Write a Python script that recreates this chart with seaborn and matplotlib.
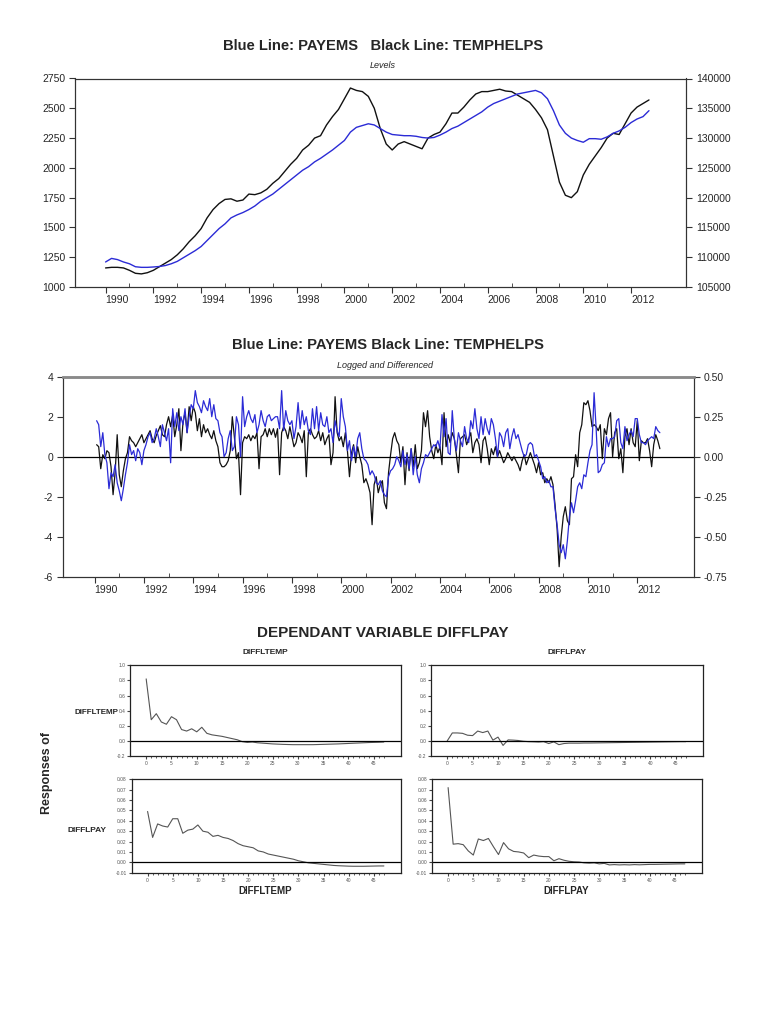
import numpy as np
import matplotlib
matplotlib.use('Agg')
import matplotlib.pyplot as plt
import seaborn as sns
from matplotlib import font_manager

# ── Levels, quarterly 1990Q1 .. 2012Q4 ───────────────────────────────────────
temphelps_lvl = [
    1160, 1165, 1165, 1160,  1140, 1115, 1110, 1120,  1140, 1170, 1200, 1230,
    1270, 1320, 1380, 1430,  1490, 1580, 1650, 1700,  1735, 1740, 1720, 1730,
    1780, 1775, 1790, 1820,  1870, 1910, 1970, 2030,  2080, 2150, 2190, 2250,
    2270, 2360, 2430, 2490,  2580, 2670, 2650, 2640,  2600, 2500, 2330, 2200,
    2150, 2200, 2220, 2200,  2180, 2160, 2250, 2280,  2300, 2370, 2460, 2460,
    2510, 2570, 2620, 2640,  2640, 2650, 2660, 2645,  2640, 2610, 2580, 2550,
    2490, 2420, 2320, 2100,  1880, 1770, 1750, 1800,  1940, 2030, 2100, 2170,
    2250, 2290, 2280, 2370,  2460, 2510, 2540, 2570,
]
payems_lvl = [
    109200, 109800, 109600, 109200,  108900, 108400, 108300, 108300,
    108360, 108440, 108600, 108900,  109300, 109900, 110500, 111100,
    111800, 112800, 113800, 114800,  115600, 116600, 117100, 117500,
    118000, 118600, 119400, 120000,  120600, 121400, 122200, 123000,
    123800, 124600, 125200, 126000,  126600, 127300, 128000, 128800,
    129600, 131000, 131800, 132100,  132400, 132200, 131600, 131000,
    130600, 130500, 130400, 130400,  130300, 130100, 130000, 130100,
    130500, 131000, 131600, 132000,  132600, 133200, 133800, 134400,
    135200, 135800, 136200, 136600,  137000, 137400, 137600, 137800,
    138000, 137600, 136600, 134600,  132200, 130800, 130000, 129600,
    129300, 129900, 129900, 129800,  130200, 130800, 131200, 131800,
    132600, 133200, 133600, 134600,
]

# ── Logged and differenced (x100), monthly Feb 1990 .. Dec 2012 ──────────────
temphelps_dl = [
    0.6, 0.5, -0.6, 0.1, -0.1, 0.3, 0.2, -0.5, -1.9, -0.8, 1.1,            # 1990
    -0.9, -1.5, -0.7, -0.1, 0.2, 1.0, 0.8, 0.7, 0.5, 0.7, 0.9, 1.1,         # 1991
    0.7, 0.9, 1.1, 1.3, 0.9, 0.7, 1.05, 1.3, 1.55, 1.1, 1.0, 1.6,           # 1992
    2.0, 1.5, 2.1, 1.0, 1.6, 2.4, 0.3, 1.7, 2.2, 1.2, 2.5, 1.8,             # 1993
    2.5, 2.2, 1.3, 1.9, 1.0, 1.6, 1.2, 1.4, 1.1, 0.9, 1.3, 0.8,             # 1994
    0.5, -0.3, -0.5, -0.5, -0.4, -0.2, 0.3, 2.0, 1.0, -0.1, 0.2, -1.9,      # 1995
    0.7, 1.0, 0.9, 1.1, 0.8, 1.05, 0.9, 1.2, -0.6, 1.0, 1.1, 1.4,           # 1996
    1.0, 1.4, 1.1, 1.4, 0.97, 1.4, -0.9, 1.2, 1.5, 1.3, 0.9, 1.5,           # 1997
    1.0, 0.5, 0.7, 1.2, 1.0, 0.7, 1.3, -1.0, 1.2, 1.4, 1.1, 0.9,            # 1998
    1.0, 1.3, 0.8, 1.2, 0.6, 0.9, 1.1, -0.4, 0.2, 3.0, 1.2, 0.8,            # 1999
    1.0, 0.5, 1.2, 0.3, -1.0, 0.2, 0.6, -0.3, 0.5, 0.0, -0.4, -1.3,         # 2000
    -1.1, -1.4, -1.8, -3.4, -1.4, -1.0, -1.8, -1.4, -1.2, -2.3, -2.6, -0.8, # 2001
    0.1, 0.9, 1.2, 0.8, 0.6, -0.3, 0.5, -1.4, 0.2, -0.7, 0.4, -0.5,         # 2002
    0.6, -0.6, -0.3, 0.3, 2.2, 1.5, 2.3, 1.0, 0.3, -0.1, 0.6, 0.2,          # 2003
    0.5, -0.4, 2.2, 0.5, 1.1, 0.7, 1.2, 0.9, 0.1, -0.8, 0.9, 1.0,           # 2004
    1.1, 0.6, 0.9, 1.2, 0.2, 0.7, 0.9, 0.6, -0.3, 0.8, 1.0, 0.4,            # 2005
    -0.4, 0.4, 0.1, 0.5, 0.0, 0.3, 0.0, -0.3, -0.1, 0.2, 0.0, -0.2,         # 2006
    0.0, -0.2, -0.4, -0.7, -0.2, 0.1, -0.4, -0.1, 0.2, -0.1, -0.4, -0.8,    # 2007
    -0.3, -0.9, -0.8, -1.3, -1.1, -1.3, -1.0, -1.4, -2.4, -3.6, -5.5, -4.0, # 2008
    -3.0, -2.5, -3.2, -3.4, -1.1, -1.0, 0.1, -0.5, 1.2, 1.6, 2.7, 2.6,      # 2009
    2.8, 2.3, 1.5, 1.6, 1.5, 1.3, 1.6, -0.1, 1.4, 1.1, 1.9, 2.2,            # 2010
    0.0, 1.2, 1.4, -0.1, 0.4, -0.8, 1.0, 1.4, 0.6, 1.4, 0.7, 0.5,           # 2011
    1.8, -0.2, 0.8, 0.7, 0.7, 0.9, 0.3, -0.5, 0.6, 1.1, 0.8, 0.4,           # 2012
]
payems_dl = [
    0.225, 0.200, 0.063, 0.150, 0.013, -0.038, -0.200, -0.100, -0.125, -0.050, -0.163,   # 1990
    -0.213, -0.275, -0.200, -0.113, -0.038, 0.075, 0.013, 0.038, -0.025, 0.050, 0.025, -0.050,  # 1991
    0.038, 0.075, 0.125, 0.150, 0.088, 0.113, 0.175, 0.125, 0.063, 0.200, 0.150, 0.100,  # 1992
    0.175, -0.038, 0.300, 0.188, 0.275, 0.163, 0.250, 0.200, 0.300, 0.150, 0.250, 0.325, # 1993
    0.300, 0.413, 0.338, 0.313, 0.275, 0.350, 0.313, 0.288, 0.363, 0.250, 0.325, 0.238,  # 1994
    0.225, 0.150, 0.125, 0.000, 0.025, 0.113, 0.163, 0.038, 0.063, 0.250, 0.200, 0.000,  # 1995
    0.375, 0.188, 0.250, 0.288, 0.238, 0.213, 0.263, 0.150, 0.200, 0.288, 0.225, 0.188,  # 1996
    0.250, 0.263, 0.225, 0.238, 0.250, 0.250, 0.175, 0.413, 0.163, 0.288, 0.225, 0.200,  # 1997
    0.225, 0.113, 0.188, 0.338, 0.175, 0.288, 0.200, 0.250, 0.163, 0.138, 0.300, 0.175,  # 1998
    0.313, 0.163, 0.275, 0.200, 0.188, 0.250, 0.150, 0.175, 0.088, 0.225, 0.163, 0.125,  # 1999
    0.363, 0.250, 0.188, 0.038, 0.100, -0.025, 0.063, 0.000, 0.113, 0.150, 0.050, -0.013,  # 2000
    -0.025, -0.050, -0.113, -0.088, -0.113, -0.163, -0.175, -0.150, -0.213, -0.238, -0.250, -0.125,  # 2001
    -0.088, -0.075, -0.050, 0.000, -0.025, -0.063, 0.038, -0.050, 0.013, -0.075, 0.050, -0.113,  # 2002
    0.000, -0.113, -0.163, -0.075, -0.038, 0.013, 0.000, 0.025, 0.050, 0.075, 0.063, 0.100,  # 2003
    0.050, 0.263, 0.125, 0.238, 0.025, 0.013, 0.288, 0.113, 0.038, 0.150, 0.100, 0.063,  # 2004
    0.188, 0.113, 0.088, 0.225, 0.175, 0.300, 0.175, 0.113, 0.250, 0.138, 0.238, 0.175,  # 2005
    0.138, 0.238, 0.200, 0.113, 0.000, 0.150, 0.125, 0.063, 0.150, 0.175, 0.050, 0.125,  # 2006
    0.175, 0.113, 0.138, 0.088, 0.038, 0.000, 0.013, 0.075, 0.088, 0.075, 0.000, 0.013,  # 2007
    -0.025, -0.063, -0.138, -0.125, -0.163, -0.150, -0.188, -0.188, -0.325, -0.425, -0.550, -0.600,  # 2008
    -0.550, -0.638, -0.525, -0.375, -0.288, -0.350, -0.275, -0.188, -0.163, -0.200, -0.113, -0.125,  # 2009
    -0.038, 0.038, 0.075, 0.400, 0.175, -0.100, -0.088, -0.050, -0.038, 0.125, 0.063, 0.113,  # 2010
    0.113, 0.125, 0.225, 0.238, 0.088, 0.050, 0.188, 0.100, 0.138, 0.163, 0.125, 0.238,  # 2011
    0.238, 0.138, 0.088, 0.088, 0.075, 0.100, 0.113, 0.125, 0.113, 0.188, 0.163, 0.150,  # 2012
]

# ── Impulse responses, 48 periods ─────────────────────────────────────────────
irf_temp_temp = [
    0.82, 0.28, 0.36, 0.25, 0.22, 0.32, 0.28, 0.15, 0.13, 0.16, 0.12, 0.18,
    0.10, 0.08, 0.07, 0.06, 0.045, 0.03, 0.015, -0.01, -0.02, -0.015, -0.025, -0.03,
    -0.035, -0.04, -0.043, -0.046, -0.048, -0.05, -0.05, -0.05, -0.05, -0.05, -0.048, -0.046,
    -0.044, -0.042, -0.04, -0.037, -0.034, -0.031, -0.028, -0.025, -0.022, -0.02, -0.018, -0.015,
]
irf_temp_pay = [
    0.0, 0.105, 0.105, 0.10, 0.075, 0.07, 0.13, 0.11, 0.13, 0.01, 0.05, -0.06,
    0.013, 0.01, 0.005, -0.005, -0.01, -0.012, -0.015, -0.01, -0.035, -0.013, -0.05, -0.035,
    -0.03, -0.03, -0.03, -0.028, -0.028, -0.027, -0.026, -0.025, -0.024, -0.023, -0.022, -0.021,
    -0.02, -0.019, -0.018, -0.017, -0.016, -0.015, -0.014, -0.013, -0.012, -0.011, -0.01, -0.01,
]
irf_pay_temp = [
    0.049, 0.024, 0.037, 0.035, 0.034, 0.042, 0.042, 0.028, 0.031, 0.032, 0.036, 0.030,
    0.029, 0.025, 0.026, 0.024, 0.023, 0.021, 0.018, 0.016, 0.015, 0.014, 0.011, 0.010,
    0.008, 0.007, 0.006, 0.005, 0.004, 0.003, 0.0015, 0.0005, -0.0005, -0.001, -0.0015, -0.002,
    -0.0025, -0.003, -0.0033, -0.0035, -0.0037, -0.0038, -0.0038, -0.0038, -0.0037, -0.0036, -0.0035, -0.0035,
]
irf_pay_pay = [
    0.072, 0.0175, 0.018, 0.017, 0.011, 0.007, 0.0225, 0.021, 0.023, 0.015, 0.0075, 0.019,
    0.013, 0.0105, 0.010, 0.009, 0.0045, 0.007, 0.006, 0.0055, 0.0055, 0.0015, 0.0035, 0.002,
    0.001, 0.0005, 0.0003, -0.0005, -0.0008, -0.0005, -0.0015, -0.001, -0.0025, -0.0022, -0.0025, -0.0023,
    -0.0025, -0.0022, -0.0024, -0.0022, -0.002, -0.002, -0.0019, -0.0018, -0.0017, -0.0016, -0.0015, -0.0015,
]

lvl_years = 1990 + np.arange(len(temphelps_lvl)) / 4
dl_years = 1990 + np.arange(1, len(temphelps_dl) + 1) / 12
horizon = np.arange(len(irf_temp_temp))

# ── Style ────────────────────────────────────────────────────────────────────
sns.set_style('ticks')
installed = {f.name for f in font_manager.fontManager.ttflist}
NARROW = 'Liberation Sans Narrow' if 'Liberation Sans Narrow' in installed else 'Liberation Sans'
plt.rcParams['font.family'] = [NARROW, 'DejaVu Sans']
plt.rcParams['axes.unicode_minus'] = False

BLUE = '#2b2bd6'
BLACK = '#111111'
W, H = 768, 1024

fig = plt.figure(figsize=(7.68, 10.24), dpi=100)


def box(x0, y0, x1, y1):
    """Pixel box (top-left origin) -> figure fraction rect."""
    return [x0 / W, 1 - y1 / H, (x1 - x0) / W, (y1 - y0) / H]


def year_axis(ax):
    ax.set_xlim(1988.72, 2014.3)
    ax.set_xticks(range(1990, 2013, 2))
    ax.set_xticklabels([str(y) for y in range(1990, 2013, 2)], ha='left')
    ax.set_xticks(range(1991, 2013, 2), minor=True)
    ax.tick_params(axis='x', which='major', direction='out', length=4,
                   labelsize=7.5, pad=2, color='#333333')
    ax.tick_params(axis='x', which='minor', direction='in', length=3,
                   color='#333333')


# ── Levels ───────────────────────────────────────────────────────────────────
ax1 = fig.add_axes(box(75, 78.5, 686, 287))
sns.lineplot(x=lvl_years, y=temphelps_lvl, ax=ax1, color=BLACK, linewidth=1.0)
ax1.set_ylim(1000, 2750)
ax1.set_yticks(range(1000, 2751, 250))
ax1r = ax1.twinx()
sns.lineplot(x=lvl_years, y=payems_lvl, ax=ax1r, color=BLUE, linewidth=1.0)
ax1r.set_ylim(105000, 140000)
ax1r.set_yticks(range(105000, 140001, 5000))
year_axis(ax1)
for a in (ax1, ax1r):
    a.tick_params(axis='y', direction='out', length=4, labelsize=7.5,
                  pad=3, color='#333333')
    for s in a.spines.values():
        s.set_color('#333333')
        s.set_linewidth(0.8)

fig.text(383 / W, 1 - 46 / H, 'Blue Line: PAYEMS   Black Line: TEMPHELPS',
         ha='center', va='center', fontsize=10.6, fontweight='bold')
fig.text(383 / W, 1 - 66 / H, 'Levels', ha='center', va='center',
         fontsize=6.5, style='italic')

# ── Logged and differenced ───────────────────────────────────────────────────
ax2 = fig.add_axes(box(63, 376.7, 694, 576.7))
sns.lineplot(x=dl_years, y=temphelps_dl, ax=ax2, color=BLACK, linewidth=0.9)
ax2.axhline(0, color='black', linewidth=0.9)
ax2.set_ylim(-6, 4)
ax2.set_yticks(range(-6, 5, 2))
ax2r = ax2.twinx()
sns.lineplot(x=dl_years, y=payems_dl, ax=ax2r, color=BLUE, linewidth=0.9)
ax2r.set_ylim(-0.75, 0.5)
ax2r.set_yticks([-0.75, -0.5, -0.25, 0.0, 0.25, 0.5])
ax2r.set_yticklabels(['-0.75', '-0.50', '-0.25', '0.00', '0.25', '0.50'])
year_axis(ax2)
for a in (ax2, ax2r):
    a.tick_params(axis='y', direction='out', length=4, labelsize=7.5,
                  pad=3, color='#333333')
    for s in a.spines.values():
        s.set_color('#333333')
        s.set_linewidth(0.8)
    a.spines['top'].set_color('#8a8a8a')
    a.spines['top'].set_linewidth(1.8)

fig.text(388 / W, 1 - 345 / H, 'Blue Line: PAYEMS Black Line: TEMPHELPS',
         ha='center', va='center', fontsize=10.6, fontweight='bold')
fig.text(385 / W, 1 - 366 / H, 'Logged and Differenced', ha='center',
         va='center', fontsize=6.5, style='italic')

# ── Impulse responses ────────────────────────────────────────────────────────
fig.text(383 / W, 1 - 633 / H, 'DEPENDANT VARIABLE DIFFLPAY', ha='center',
         va='center', fontsize=11, fontweight='bold', family='Liberation Sans')

panels = [
    (box(130, 665.3, 401, 756), irf_temp_temp, (-0.2, 1.0),
     np.arange(-0.2, 1.01, 0.2), '{:.1f}'),
    (box(431, 665.3, 703, 756), irf_temp_pay, (-0.2, 1.0),
     np.arange(-0.2, 1.01, 0.2), '{:.1f}'),
    (box(131.5, 779.3, 401, 872.7), irf_pay_temp, (-0.01, 0.08),
     np.arange(-0.01, 0.081, 0.01), '{:.2f}'),
    (box(432, 779.3, 702, 872.7), irf_pay_pay, (-0.01, 0.08),
     np.arange(-0.01, 0.081, 0.01), '{:.2f}'),
]
for rect, resp, ylim, yt, fmt in panels:
    ax = fig.add_axes(rect)
    sns.lineplot(x=horizon, y=resp, ax=ax, color='#555555', linewidth=0.8)
    ax.axhline(0, color='black', linewidth=0.9)
    ax.set_xlim(-3.2, 50.4)
    ax.set_ylim(*ylim)
    ax.set_yticks(yt)
    ax.set_yticklabels([fmt.format(v + 0.0) for v in yt])
    ax.set_xticks(range(0, 46, 5))
    ax.set_xticks(horizon, minor=True)
    ax.tick_params(axis='both', which='major', direction='out', length=2,
                   labelsize=3.5, pad=1.5, labelcolor='#555555', color='#444444')
    ax.tick_params(axis='x', which='minor', direction='out', length=1.5,
                   color='#444444')
    for s in ax.spines.values():
        s.set_color('#222222')
        s.set_linewidth(0.9)

small_bold = dict(ha='center', va='center', fontsize=6, fontweight='bold')
fig.text(265 / W, 1 - 653 / H, 'DIFFLTEMP', **small_bold)
fig.text(567 / W, 1 - 653 / H, 'DIFFLPAY', **small_bold)
fig.text(96 / W, 1 - 712 / H, 'DIFFLTEMP', ha='center', va='center',
         fontsize=5.8, fontweight='bold')
fig.text(87 / W, 1 - 830 / H, 'DIFFLPAY', **small_bold)
fig.text(265 / W, 1 - 891 / H, 'DIFFLTEMP', ha='center', va='center',
         fontsize=7, fontweight='bold')
fig.text(566 / W, 1 - 891 / H, 'DIFFLPAY', ha='center', va='center',
         fontsize=7, fontweight='bold')
fig.text(47 / W, 1 - 773 / H, 'Responses of', ha='center', va='center',
         rotation=90, fontsize=9, fontweight='bold', family='Liberation Sans')

fig.savefig('out.png', dpi=100)
